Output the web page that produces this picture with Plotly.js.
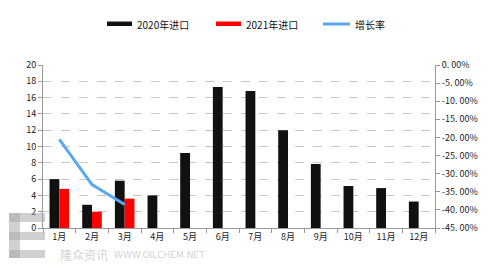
<!DOCTYPE html>
<html><head><meta charset="utf-8">
<script src="https://cdn.plot.ly/plotly-3.0.1.min.js"></script>
<style>body{margin:0;background:#fff}#c{width:491px;height:268px}</style>
</head><body><div id="c"></div>
<script>
const months = ["1月","2月","3月","4月","5月","6月","7月","8月","9月","10月","11月","12月"];
const imp2020 = [6.0, 2.85, 5.8, 4.0, 9.2, 17.3, 16.8, 12.0, 7.85, 5.15, 4.9, 3.25];
const imp2021 = [4.8, 2.0, 3.6];
const growth = [-20.5, -33.0, -38.5];
const seriesNames = ["2020年进口","2021年进口","增长率"];
const seriesColors = ["#111111","#ff0000","#5aa9ee"];
const rightTickVals = [0,-5,-10,-15,-20,-25,-30,-35,-40,-45];
const rightTickText = ["0. 00%","-5. 00%","-10. 00%","-15. 00%","-20. 00%","-25. 00%","-30. 00%","-35. 00%","-40. 00%","-45. 00%"];
const font = "SimSun, 'Noto Sans CJK SC', sans-serif";
const W = 491, H = 268, M = {l:43, r:56, t:65, b:40};
const traces = [
  {type:"bar", name:seriesNames[0], x:months, y:imp2020, marker:{color:seriesColors[0]}},
  {type:"bar", name:seriesNames[1], x:months.slice(0,3), y:imp2021, marker:{color:seriesColors[1]}},
  {type:"scatter", mode:"lines", name:seriesNames[2], x:months.slice(0,3), y:growth, yaxis:"y2",
   line:{color:seriesColors[2], width:3}}
];
const pw = W - M.l - M.r, ph = H - M.t - M.b;
const px = v => (v - M.l) / pw;
const py = v => (H - M.b - v) / ph;
const legX = [107, 216, 323];
const shapes = [], annotations = [];
legX.forEach((x0, i) => {
  if (i < 2) {
    shapes.push({type:"rect", xref:"paper", yref:"paper", x0:px(x0), x1:px(x0+25),
      y0:py(26), y1:py(21.5), fillcolor:seriesColors[i], line:{width:0}});
  } else {
    shapes.push({type:"line", xref:"paper", yref:"paper", x0:px(x0), x1:px(x0+27),
      y0:py(24), y1:py(24), line:{color:seriesColors[i], width:3}});
  }
  annotations.push({xref:"paper", yref:"paper", x:px(x0 + (i<2?28:30)), y:py(24.5),
    xanchor:"left", yanchor:"middle", showarrow:false, text:seriesNames[i],
    font:{size:10, color:"#111"}});
});
// watermark (logo block + text)
const wm = "rgba(170,170,170,0.55)";
shapes.push({type:"rect", xref:"paper", yref:"paper", x0:px(9), x1:px(45), y0:py(222), y1:py(213), fillcolor:wm, line:{width:0}, layer:"above"});
shapes.push({type:"rect", xref:"paper", yref:"paper", x0:px(9), x1:px(20), y0:py(258), y1:py(213), fillcolor:wm, line:{width:0}, layer:"above"});
shapes.push({type:"rect", xref:"paper", yref:"paper", x0:px(9), x1:px(45), y0:py(240), y1:py(232), fillcolor:wm, line:{width:0}, layer:"above"});
shapes.push({type:"rect", xref:"paper", yref:"paper", x0:px(9), x1:px(45), y0:py(258), y1:py(250), fillcolor:wm, line:{width:0}, layer:"above"});
annotations.push({xref:"paper", yref:"paper", x:px(58), y:py(254), xanchor:"left", yanchor:"middle",
  showarrow:false, text:"隆众资讯", font:{size:12, color:wm}});
annotations.push({xref:"paper", yref:"paper", x:px(112), y:py(255), xanchor:"left", yanchor:"middle",
  showarrow:false, text:"WWW.OILCHEM.NET", font:{size:9, color:wm, family:"'DejaVu Sans', sans-serif"}});
const layout = {
  width:W, height:H,
  margin:M,
  paper_bgcolor:"#fff", plot_bgcolor:"#fff",
  font:{family:font, size:9, color:"#222"},
  barmode:"group", bargap:0.4, bargroupgap:0,
  showlegend:false,
  shapes:shapes, annotations:annotations,
  xaxis:{type:"category", showgrid:false, showline:true, linecolor:"#999", linewidth:1,
         ticks:"outside", tickson:"boundaries", ticklen:4, tickcolor:"#999",
         tickfont:{size:9}, automargin:false},
  yaxis:{range:[0,20], dtick:2, showline:true, linecolor:"#999", linewidth:1,
         ticks:"outside", ticklen:4, tickcolor:"#999", automargin:false,
         gridcolor:"#c8c8c8", griddash:"dash", zeroline:false, tickfont:{size:9}},
  yaxis2:{overlaying:"y", side:"right", range:[-45,0], tickvals:rightTickVals, ticktext:rightTickText,
          showline:true, linecolor:"#999", linewidth:1, ticks:"outside", ticklen:4, tickcolor:"#999",
          showgrid:false, zeroline:false, tickfont:{size:9}, automargin:false}
};
Plotly.newPlot("c", traces, layout, {staticPlot:true});
</script></body></html>
